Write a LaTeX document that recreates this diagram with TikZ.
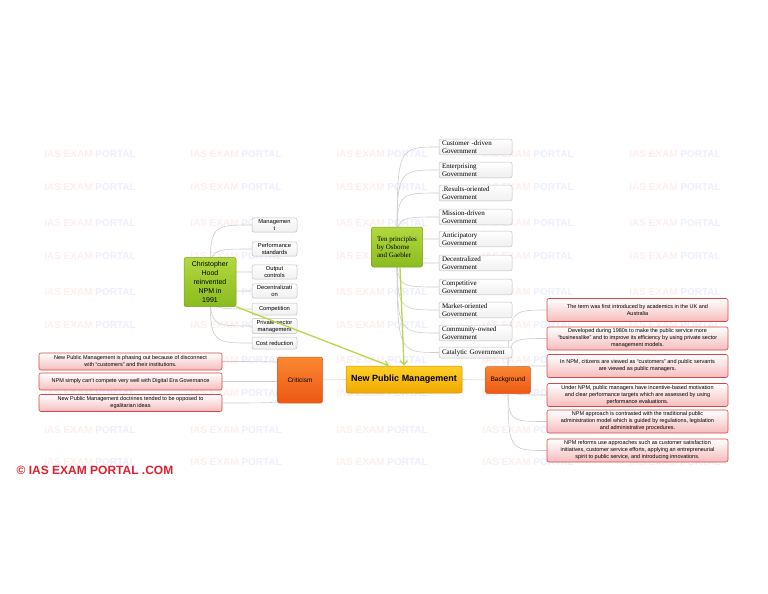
\documentclass[tikz,border=0pt]{standalone}
\usepackage{fontspec}
\setmainfont{Liberation Serif}
\setsansfont{Liberation Sans}
\usetikzlibrary{arrows.meta, positioning, calc, backgrounds}
\definecolor{npm}{RGB}{240,168,0}
\definecolor{npmclaro}{RGB}{255,208,40}
\definecolor{npmborde}{RGB}{205,140,0}
\definecolor{naranja}{RGB}{236,88,20}
\definecolor{naranjaclaro}{RGB}{250,135,50}
\definecolor{naranjaborde}{RGB}{215,95,45}
\definecolor{verde}{RGB}{138,188,30}
\definecolor{verdeclaro}{RGB}{178,216,64}
\definecolor{verdeborde}{RGB}{118,162,30}
\definecolor{verdeflecha}{RGB}{185,215,70}
\definecolor{rosa}{RGB}{246,188,188}
\definecolor{rosaborde}{RGB}{214,72,72}
\definecolor{lineagris}{RGB}{205,205,205}
\definecolor{rojomarca}{RGB}{225,30,45}

\begin{document}
\begin{tikzpicture}[
    x={(1pt,0pt)},
    y={(0pt,-1pt)},
    caja/.style={rounded corners=2pt, line width=0.5pt, inner sep=1.5pt, align=center},
    central/.style={caja, draw=npmborde, top color=npmclaro, bottom color=npm,
        minimum width=116pt, minimum height=27pt, font=\sffamily\fontsize{9}{10}\selectfont\bfseries},
    tema/.style={caja, draw=naranjaborde, top color=naranjaclaro, bottom color=naranja,
        minimum width=45pt, font=\sffamily\fontsize{6.5}{8}\selectfont},
    idea/.style={caja, draw=verdeborde, top color=verdeclaro, bottom color=verde,
        font=\sffamily\fontsize{7}{9}\selectfont},
    punto/.style={caja, draw=gray!50, top color=white, bottom color=gray!12,
        minimum width=45pt, minimum height=12pt, font=\sffamily\fontsize{5.8}{7}\selectfont},
    gob/.style={caja, draw=gray!50, top color=white, bottom color=gray!12, text width=67pt,
        minimum height=11pt, align=left, inner xsep=3pt, font=\rmfamily\fontsize{7}{8}\selectfont},
    nota/.style={caja, draw=rosaborde, line width=0.6pt, top color=white, bottom color=rosa,
        font=\sffamily\fontsize{5.5}{7}\selectfont},
    rama/.style={draw=lineagris, line width=0.6pt},
    flecha/.style={draw=verdeflecha, line width=1.3pt, -{Straight Barb[length=4pt, width=7pt]}},
    marcaagua/.style={font=\sffamily\bfseries\fontsize{10}{10}\selectfont}
]
\useasboundingbox (0,0) rectangle (768,594);

% Marca de agua
\begin{scope}[on background layer]
\foreach \cx in {90,236,382,528,675} {
    \foreach \cy in {154,187,223,256,292,325,360,393,430,462} {
        \node[marcaagua] (agua-\cx-\cy) at (\cx,\cy) {\textcolor{red!7}{IAS EXAM} \textcolor{blue!7}{PORTAL}};
    }
}
\end{scope}

% Nodo central y temas
\node[central] (npm) at (404,379.5) {New Public Management};
\node[tema, minimum height=46pt] (critica) at (300,380) {Criticism};
\node[tema, minimum height=27pt] (fondo) at (508,380) {Background};

% Christopher Hood
\node[idea, minimum width=52pt, minimum height=49pt] (hood) at (210,282)
    {Christopher\\Hood\\reinvented\\NPM in\\1991};
\foreach \i/\y/\texto in {1/225/{Managemen\\t}, 2/249/{Performance\\standards}, 3/272/{Output\\controls},
                          4/291/{Decentralizati\\on}, 5/309/{Competition}, 6/326/{Private-sector\\management},
                          7/343/{Cost reduction}} {
    \node[punto] (h\i) at (274.5,\y) {\texto};
}

% Osborne y Gaebler
\node[idea, minimum width=51pt, minimum height=40pt, align=left, font=\rmfamily\fontsize{7}{8.3}\selectfont] (diez) at (397,247)
    {Ten principles\\by Osborne\\and Gaebler};
\foreach \i/\y/\texto in {1/147/{Customer -driven\\Government}, 2/170/{Enterprising\\Government},
                          3/193/{.Results-oriented\\Government}, 4/217/{Mission-driven\\Government},
                          5/239/{Anticipatory\\Government}, 6/263/{Decentralized\\Government},
                          7/287/{Competitive\\Government}, 8/310/{Market-oriented\\Government},
                          9/333/{Community-owned\\Government}, 10/352.5/{Catalytic Government}} {
    \node[gob] (o\i) at (475.5,\y) {\texto};
}

% Background
\foreach \i/\y/\texto in {
    1/310/{The term was first introduced by academics in the UK and\\Australia},
    2/338.5/{Developed during 1980s to make the public service more\\``businesslike'' and to improve its efficiency by using private sector\\management models.},
    3/366/{In NPM, citizens are viewed as ``customers'' and public servants\\are viewed as public managers.},
    4/395/{Under NPM, public managers have incentive-based motivation\\and clear performance targets which are assessed by using\\performance evaluations.},
    5/421.5/{NPM approach is contrasted with the traditional public\\administration model which is guided by regulations, legislation\\and administrative procedures.},
    6/450.5/{NPM reforms use approaches such as customer satisfaction\\initiatives, customer service efforts, applying an entrepreneurial\\spirit to public service, and introducing innovations.}} {
    \node[nota, minimum width=181pt, minimum height=23pt] (f\i) at (637.5,\y) {\texto};
}

% Criticism
\foreach \i/\y/\texto in {
    1/361.5/{New Public Management is phasing out because of disconnect\\with ``customers'' and their institutions.},
    2/381.5/{NPM simply can't compete very well with Digital Era Governance},
    3/403/{New Public Management doctrines tended to be opposed to\\egalitarian ideas}} {
    \node[nota, minimum width=183pt, minimum height=17pt] (c\i) at (130.5,\y) {\texto};
}

% Ramas
\begin{scope}[on background layer]
\draw[rama] (npm) -- (critica);
\draw[rama] (npm) -- (fondo);
\foreach \i in {1,...,7} {
    \draw[rama] (hood.center) .. controls (hood.center |- h\i.west) .. (h\i.west);
}
\foreach \i in {1,...,10} {
    \draw[rama] (diez.center) .. controls (diez.center |- o\i.west) .. (o\i.west);
}
\foreach \i in {1,...,6} {
    \draw[rama] (fondo.center) .. controls (fondo.center |- f\i.west) .. (f\i.west);
}
\foreach \i in {1,...,3} {
    \draw[rama] (critica.center) .. controls (critica.center |- c\i.east) .. (c\i.east);
}
\end{scope}

% Flechas
\draw[flecha] (hood.south east) -- ([xshift=-15pt]npm.north);
\draw[flecha] ([xshift=3pt]diez.south) -- (npm.north);

% Copyright
\node[font=\sffamily\bfseries\fontsize{12}{12}\selectfont, text=rojomarca] (copy) at (95,470) {© IAS EXAM PORTAL .COM};

\end{tikzpicture}
\end{document}
